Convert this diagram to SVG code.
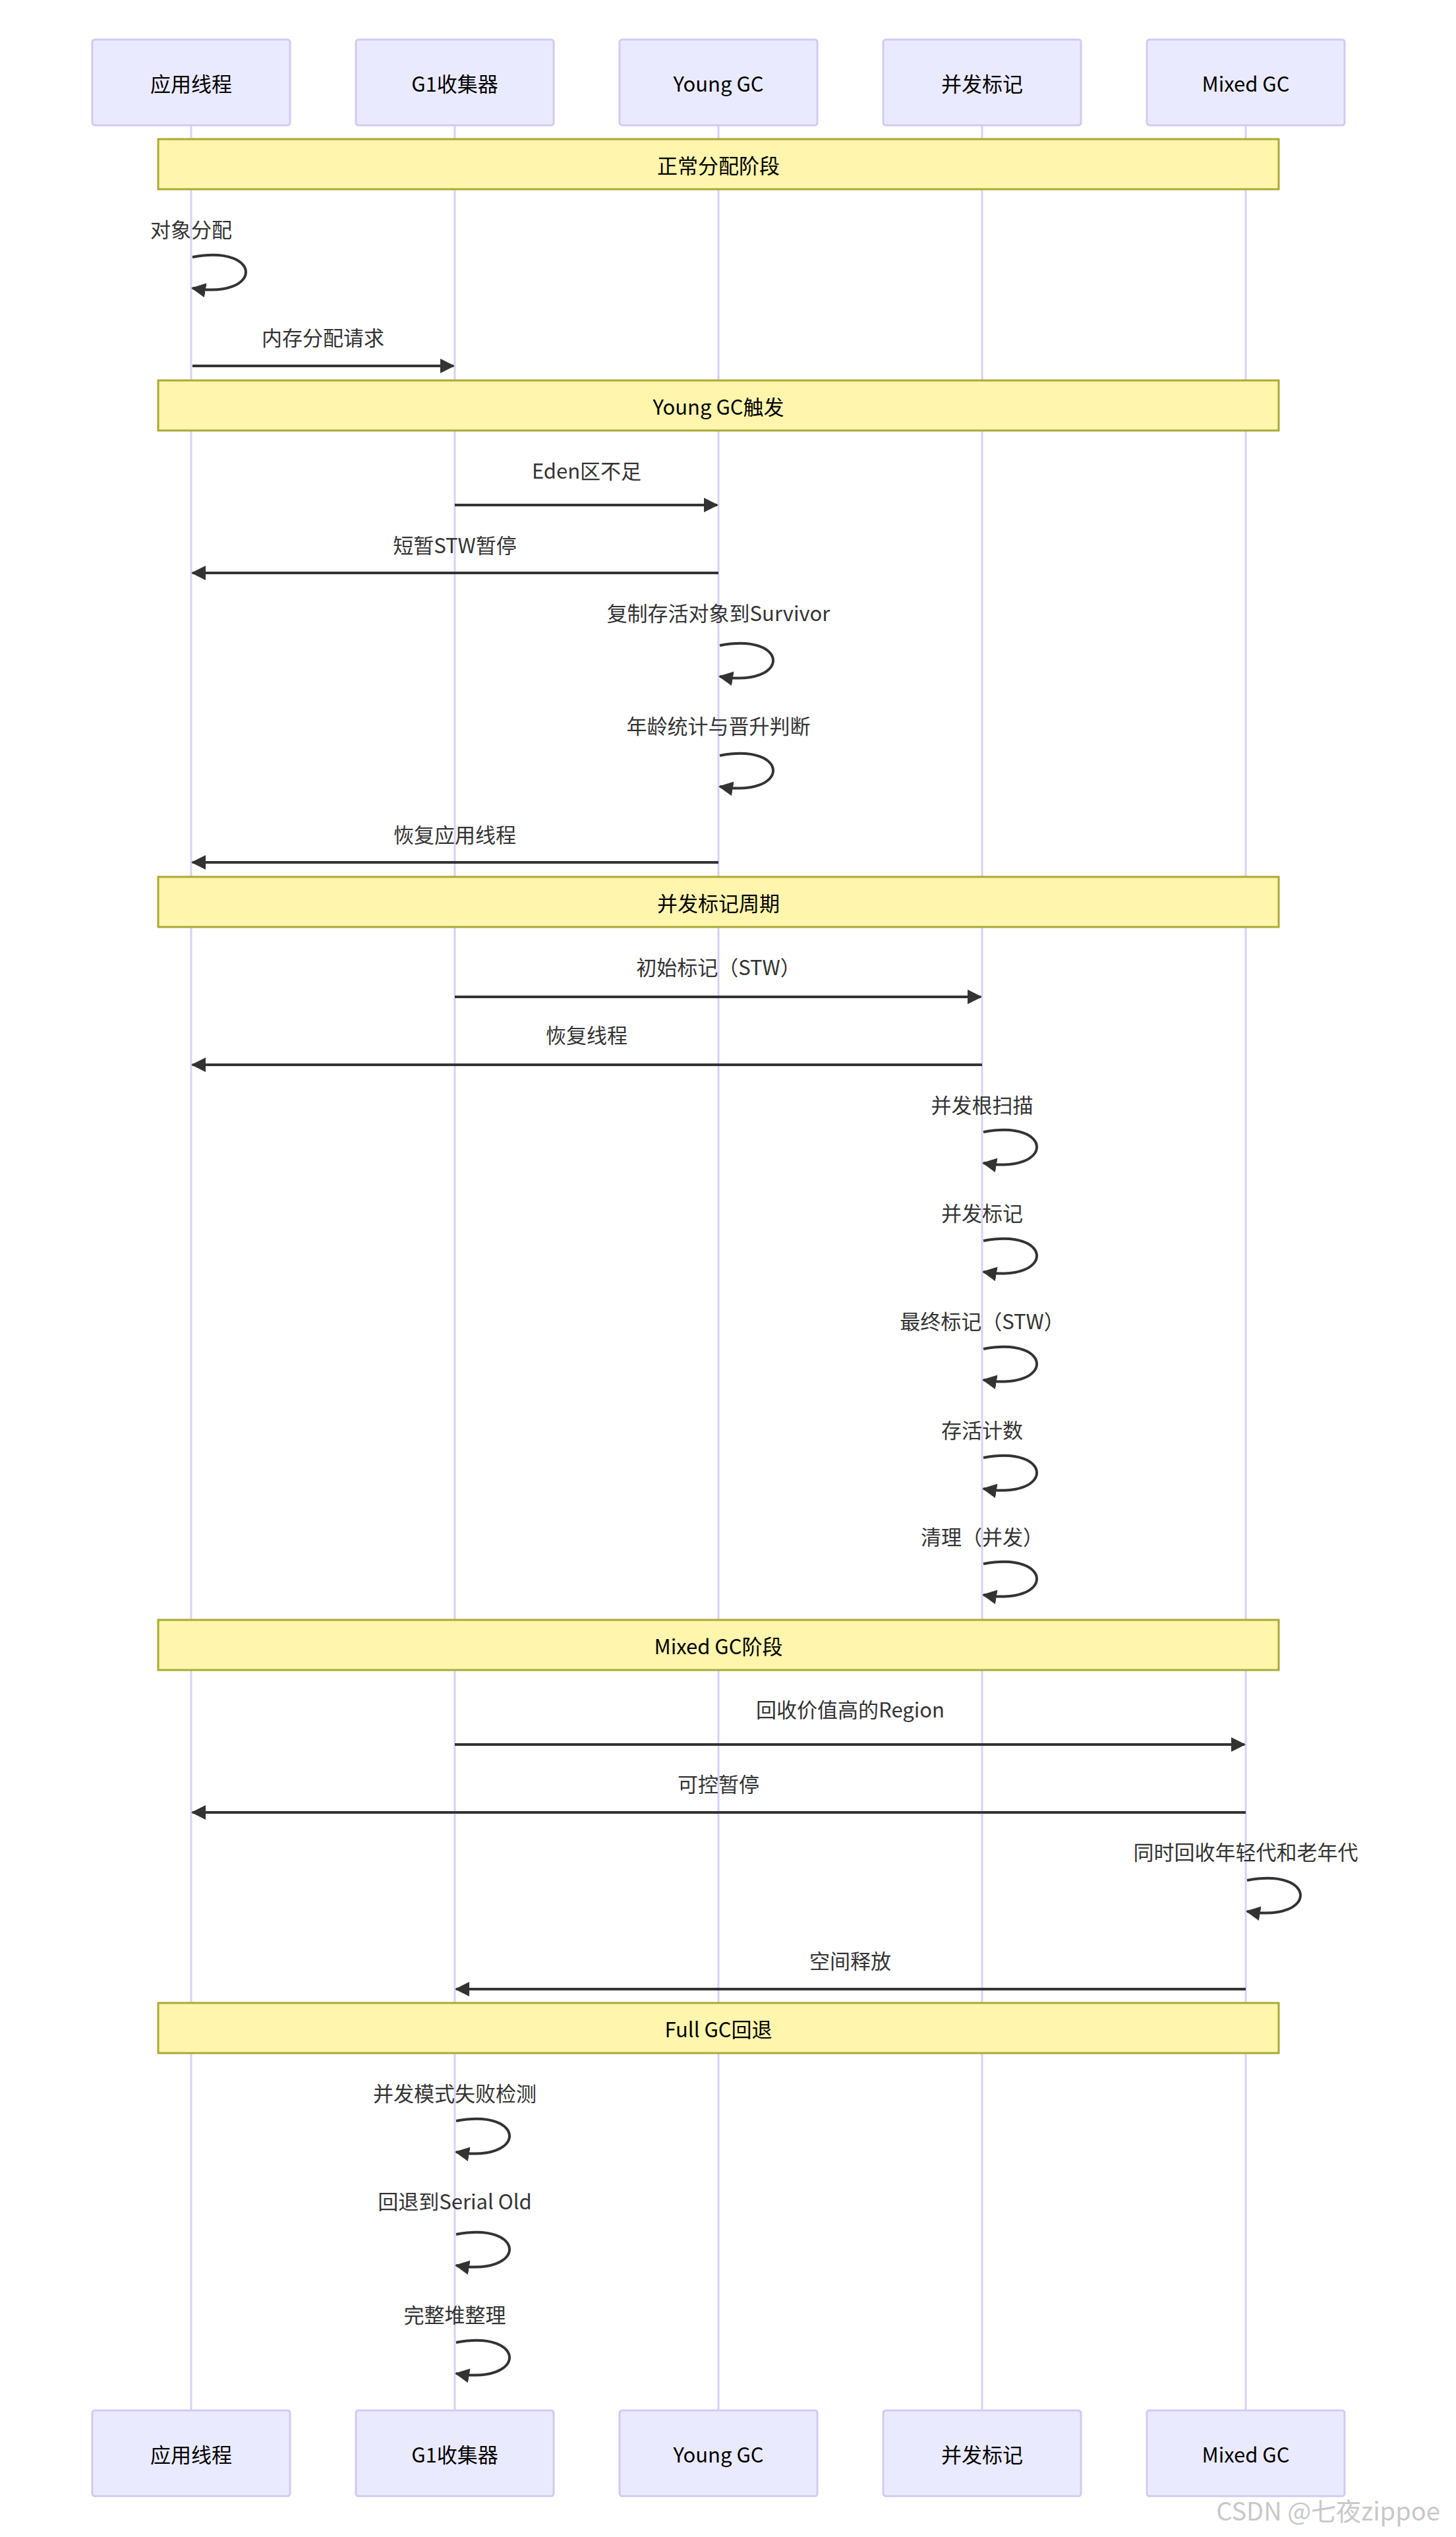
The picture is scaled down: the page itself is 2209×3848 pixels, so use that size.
<svg xmlns="http://www.w3.org/2000/svg" width="2209" height="3848" viewBox="0 0 2209 3848">
<style>
text{font-family:"Noto Sans CJK SC","Liberation Sans",sans-serif;font-size:31px;fill:#333;text-anchor:middle;dominant-baseline:central}
.actor rect{fill:#eaeaff;stroke:#d3c9f3;stroke-width:3}
.actor text{fill:#000}
.note rect{fill:#fff5ad;stroke:#aaaa33;stroke-width:3}
.note text{fill:#000}
.life{stroke:#d9d0f5;stroke-width:3}
.msg{stroke:#333;stroke-width:4;fill:none}
</style>
<defs>
<marker id="ah" markerWidth="12" markerHeight="12" refX="11" refY="6" orient="auto" markerUnits="userSpaceOnUse" viewBox="0 0 12 12">
<path d="M0,0 L12,6 L0,12 z" fill="#333"/>
</marker>
<marker id="ah2" markerWidth="22" markerHeight="22" refX="20" refY="11" orient="auto" markerUnits="userSpaceOnUse" viewBox="0 0 22 22">
<path d="M0,0 L22,11 L0,22 z" fill="#333"/>
</marker>
</defs>
<rect width="2209" height="3848" fill="#fff"/>
<g id="lifelines">
<line class="life" x1="290" y1="190" x2="290" y2="3656"/>
<line class="life" x1="690" y1="190" x2="690" y2="3656"/>
<line class="life" x1="1090" y1="190" x2="1090" y2="3656"/>
<line class="life" x1="1490" y1="190" x2="1490" y2="3656"/>
<line class="life" x1="1890" y1="190" x2="1890" y2="3656"/>
</g>
<g id="actor-app-top" class="actor"><rect x="140" y="60" width="300" height="130" rx="4"/><text x="290" y="125">应用线程</text></g>
<g id="actor-g1-top" class="actor"><rect x="540" y="60" width="300" height="130" rx="4"/><text x="690" y="125">G1收集器</text></g>
<g id="actor-young-top" class="actor"><rect x="940" y="60" width="300" height="130" rx="4"/><text x="1090" y="125">Young GC</text></g>
<g id="actor-conc-top" class="actor"><rect x="1340" y="60" width="300" height="130" rx="4"/><text x="1490" y="125">并发标记</text></g>
<g id="actor-mixed-top" class="actor"><rect x="1740" y="60" width="300" height="130" rx="4"/><text x="1890" y="125">Mixed GC</text></g>
<g id="actor-app-bot" class="actor"><rect x="140" y="3656" width="300" height="130" rx="4"/><text x="290" y="3721">应用线程</text></g>
<g id="actor-g1-bot" class="actor"><rect x="540" y="3656" width="300" height="130" rx="4"/><text x="690" y="3721">G1收集器</text></g>
<g id="actor-young-bot" class="actor"><rect x="940" y="3656" width="300" height="130" rx="4"/><text x="1090" y="3721">Young GC</text></g>
<g id="actor-conc-bot" class="actor"><rect x="1340" y="3656" width="300" height="130" rx="4"/><text x="1490" y="3721">并发标记</text></g>
<g id="actor-mixed-bot" class="actor"><rect x="1740" y="3656" width="300" height="130" rx="4"/><text x="1890" y="3721">Mixed GC</text></g>
<g id="note1" class="note"><rect x="240" y="211" width="1700" height="76"/><text x="1090" y="249">正常分配阶段</text></g>
<g id="note2" class="note"><rect x="240" y="577" width="1700" height="76"/><text x="1090" y="615">Young GC触发</text></g>
<g id="note3" class="note"><rect x="240" y="1330" width="1700" height="76"/><text x="1090" y="1368">并发标记周期</text></g>
<g id="note4" class="note"><rect x="240" y="2457" width="1700" height="76"/><text x="1090" y="2495">Mixed GC阶段</text></g>
<g id="note5" class="note"><rect x="240" y="3038" width="1700" height="76"/><text x="1090" y="3076">Full GC回退</text></g>
<g id="connectors">
<path class="msg" marker-end="url(#ah2)" d="M292,390 C400,370 400,455 292,437"/>
<line class="msg" marker-end="url(#ah2)" x1="292" y1="555" x2="688" y2="555"/>
<line class="msg" marker-end="url(#ah2)" x1="690" y1="766" x2="1088" y2="766"/>
<line class="msg" marker-end="url(#ah2)" x1="1090" y1="869" x2="292" y2="869"/>
<path class="msg" marker-end="url(#ah2)" d="M1092,979 C1200,959 1200,1044 1092,1026"/>
<path class="msg" marker-end="url(#ah2)" d="M1092,1146 C1200,1126 1200,1211 1092,1193"/>
<line class="msg" marker-end="url(#ah2)" x1="1090" y1="1308" x2="292" y2="1308"/>
<line class="msg" marker-end="url(#ah2)" x1="690" y1="1512" x2="1488" y2="1512"/>
<line class="msg" marker-end="url(#ah2)" x1="1490" y1="1615" x2="292" y2="1615"/>
<path class="msg" marker-end="url(#ah2)" d="M1492,1717 C1600,1697 1600,1782 1492,1764"/>
<path class="msg" marker-end="url(#ah2)" d="M1492,1882 C1600,1862 1600,1947 1492,1929"/>
<path class="msg" marker-end="url(#ah2)" d="M1492,2046 C1600,2026 1600,2111 1492,2093"/>
<path class="msg" marker-end="url(#ah2)" d="M1492,2211 C1600,2191 1600,2276 1492,2258"/>
<path class="msg" marker-end="url(#ah2)" d="M1492,2372 C1600,2352 1600,2437 1492,2419"/>
<line class="msg" marker-end="url(#ah2)" x1="690" y1="2646" x2="1888" y2="2646"/>
<line class="msg" marker-end="url(#ah2)" x1="1890" y1="2749" x2="292" y2="2749"/>
<path class="msg" marker-end="url(#ah2)" d="M1892,2852 C2000,2832 2000,2917 1892,2899"/>
<line class="msg" marker-end="url(#ah2)" x1="1890" y1="3017" x2="692" y2="3017"/>
<path class="msg" marker-end="url(#ah2)" d="M692,3217 C800,3197 800,3282 692,3264"/>
<path class="msg" marker-end="url(#ah2)" d="M692,3389 C800,3369 800,3454 692,3436"/>
<path class="msg" marker-end="url(#ah2)" d="M692,3553 C800,3533 800,3618 692,3600"/>
</g>
<g id="labels">
<text x="290" y="346">对象分配</text>
<text x="490" y="510">内存分配请求</text>
<text x="890" y="712">Eden区不足</text>
<text x="690" y="825">短暂STW暂停</text>
<text x="1090" y="928">复制存活对象到Survivor</text>
<text x="1090" y="1099">年龄统计与晋升判断</text>
<text x="690" y="1264">恢复应用线程</text>
<text x="1090" y="1465">初始标记（STW）</text>
<text x="890" y="1568">恢复线程</text>
<text x="1490" y="1674">并发根扫描</text>
<text x="1490" y="1838">并发标记</text>
<text x="1490" y="2002">最终标记（STW）</text>
<text x="1490" y="2167">存活计数</text>
<text x="1490" y="2329">清理（并发）</text>
<text x="1290" y="2591">回收价值高的Region</text>
<text x="1090" y="2704">可控暂停</text>
<text x="1890" y="2807">同时回收年轻代和老年代</text>
<text x="1290" y="2972">空间释放</text>
<text x="690" y="3173">并发模式失败检测</text>
<text x="690" y="3337">回退到Serial Old</text>
<text x="690" y="3509">完整堆整理</text>
<text x="2015" y="3806" style="fill:#c8c8c8;font-size:38px">CSDN @七夜zippoe</text>
</g>
</svg>
